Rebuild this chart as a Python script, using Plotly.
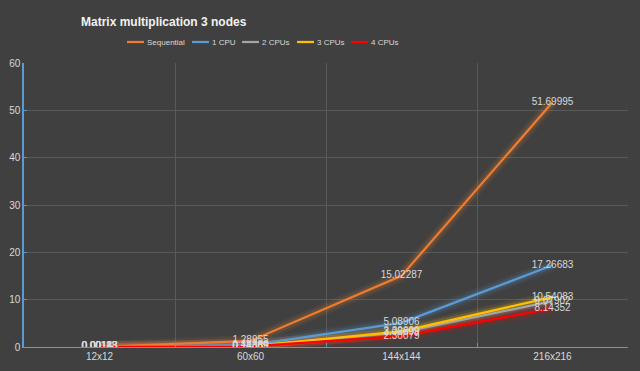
import plotly.graph_objects as go

categories = ["12x12", "60x60", "144x144", "216x216"]
series_names = ["Sequential", "1 CPU", "2 CPUs", "3 CPUs", "4 CPUs"]
sequential = [0.00113, 1.28955, 15.02287, 51.69995]
cpu1 = [0.00183, 0.41389, 5.08906, 17.26683]
cpu2 = [0.00143, 0.18689, 3.08899, 9.67902]
cpu3 = [0.00133, 0.16389, 3.30609, 10.54083]
cpu4 = [0.00118, 0.14389, 2.30079, 8.14352]
colors = ["#ed7d31", "#5b9bd5", "#a5a5a5", "#ffc000", "#ff0000"]
y_ticks = [0, 10, 20, 30, 40, 50, 60]

all_series = [sequential, cpu1, cpu2, cpu3, cpu4]

def rgba(hexc, a):
    h = hexc.lstrip("#")
    r, g, b = int(h[0:2], 16), int(h[2:4], 16), int(h[4:6], 16)
    return f"rgba({r},{g},{b},{a})"

fig = go.Figure()
# glow layers
for vals, c in zip(all_series, colors):
    for w, a in [(12, 0.08), (7, 0.15)]:
        fig.add_trace(go.Scatter(x=categories, y=vals, mode="lines",
                                 line=dict(color=rgba(c, a), width=w),
                                 showlegend=False, hoverinfo="skip"))
for name, vals, c in zip(series_names, all_series, colors):
    fig.add_trace(go.Scatter(x=categories, y=vals, name=name, mode="lines",
                             line=dict(color=c, width=2.25), showlegend=False))
for vals in all_series:
    fig.add_trace(go.Scatter(x=categories, y=vals, mode="text",
                             text=[f"{v:.5f}".rstrip("0").rstrip(".") for v in vals],
                             textposition="middle center",
                             textfont=dict(color="#d9d9d9", size=10, family="Liberation Sans, sans-serif"),
                             showlegend=False, hoverinfo="skip"))

# compact legend (Excel-style short line samples)
L, W = 24, 604
leg_y = 1 + (63 - 42) / 284
leg_line_starts = [127, 192, 242, 297, 351]
for name, c, x0 in zip(series_names, colors, leg_line_starts):
    fig.add_shape(type="line", xref="paper", yref="paper",
                  x0=(x0 - L) / W, x1=(x0 + 17 - L) / W, y0=leg_y, y1=leg_y,
                  line=dict(color=c, width=2.25))
    fig.add_annotation(xref="paper", yref="paper", x=(x0 + 18 - L) / W, y=leg_y,
                       text=name, showarrow=False, xanchor="left", yanchor="middle",
                       font=dict(color="#d9d9d9", size=8, family="Liberation Sans, sans-serif"))

fig.update_layout(
    width=640, height=371,
    paper_bgcolor="#404040", plot_bgcolor="#404040",
    margin=dict(l=24, r=12, t=63, b=24, autoexpand=False),
    title=dict(text="<b>Matrix multiplication 3 nodes</b>", x=81/640, xref="container", xanchor="left",
               y=1-22/371, yref="container", yanchor="middle",
               font=dict(color="#f2f2f2", size=12, family="Liberation Sans, sans-serif")),
    showlegend=False,
    font=dict(family="Liberation Sans, sans-serif", color="#d9d9d9"),
)
fig.update_xaxes(type="category", range=[-0.5, 3.5], tickson="boundaries",
                 showgrid=True, gridcolor="#595959", gridwidth=1,
                 showline=True, linecolor="#5b9bd5", linewidth=1,
                 ticks="inside", ticklen=4, tickcolor="#5b9bd5",
                 tickfont=dict(color="#d9d9d9", size=10), zeroline=False)
fig.update_yaxes(range=[0, 60], tickvals=y_ticks, showgrid=True, gridcolor="#595959", gridwidth=1,
                 showline=True, linecolor="#5b9bd5", linewidth=1.5,
                 ticks="inside", ticklen=3, tickcolor="#5b9bd5",
                 tickfont=dict(color="#d9d9d9", size=10), zeroline=False)

fig.write_html("out.html", config={"displayModeBar": False},
               post_script="document.body.style.margin='0';document.body.style.background='#404040';")
